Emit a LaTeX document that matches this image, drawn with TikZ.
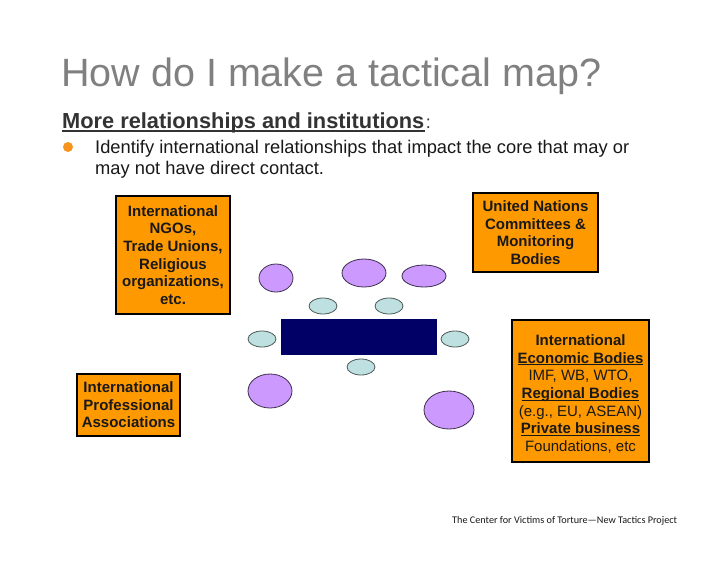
\documentclass[tikz,border=0pt]{standalone}
\usepackage{fontspec}
\setmainfont{Liberation Sans}
\newfontfamily\footfont{Carlito}
\usetikzlibrary{shapes.geometric}
\definecolor{boxorange}{HTML}{FF9900}
\definecolor{corenavy}{HTML}{000066}
\definecolor{lilac}{HTML}{CC99FF}
\definecolor{paleblue}{HTML}{BFE0E0}
\definecolor{titlegray}{HTML}{808080}
\definecolor{subgray}{HTML}{333333}
\definecolor{bulletorange}{HTML}{F7941D}
\newcommand\myul[1]{\setbox0\hbox{#1}\rlap{\rule[-2.4pt]{\wd0}{1.1pt}}\box0}
\begin{document}
\begin{tikzpicture}[x=1pt,y=-1pt,
  orgbox/.style={draw=black, line width=1.5pt, fill=boxorange, inner sep=0pt},
  boxtext/.style={font=\fontsize{15}{17.6}\selectfont\bfseries, text=black!90, align=center, inner sep=0pt},
  bigoval/.style={ellipse, draw=black!70!lilac, fill=lilac, line width=0.8pt, inner sep=0pt},
  smalloval/.style={ellipse, draw=black!60!paleblue, fill=paleblue, line width=0.8pt, inner sep=0pt, minimum width=28pt, minimum height=16pt},
  plain/.style={inner sep=0pt, anchor=base west}]
\useasboundingbox (0,0) rectangle (728,563);
\fill[white] (0,0) rectangle (728,563);

% heading
\node[plain, text=titlegray, font=\fontsize{39.5}{42}\selectfont] (title) at (61,86) {How do I make a tactical map?};
\node[plain, text=subgray, font=\fontsize{21.8}{24}\selectfont\bfseries] (sub) at (62,128) {More relationships and institutions};
\node[plain, text=subgray, font=\fontsize{18}{20}\selectfont] (colon) at ([xshift=1pt]sub.base east) {:};
\draw[subgray, line width=1.5pt] ([yshift=-3.2pt]sub.base west) -- ([yshift=-3.2pt]sub.base east);
\node[circle, fill=bulletorange, minimum size=10pt, inner sep=0pt] (dot) at (68,147) {};
\node[plain, text=black!90, font=\fontsize{18.3}{20.5}\selectfont] (line1) at (95,153) {Identify international relationships that impact the core that may or};
\node[plain, text=black!90, font=\fontsize{18.3}{20.5}\selectfont] (line2) at (95,174) {may not have direct contact.};

% boxes
\node[orgbox, minimum width=114pt, minimum height=118pt] (ngo) at (173,255) {};
\node[boxtext] (ngot) at (ngo.center) {International\\NGOs,\\Trade Unions,\\Religious\\organizations,\\etc.};

\node[orgbox, minimum width=125pt, minimum height=79pt] (un) at (535.5,232.5) {};
\node[boxtext] (unt) at (un.center) {United Nations\\Committees \&\\Monitoring\\Bodies};

\node[orgbox, minimum width=137pt, minimum height=142pt] (econ) at (580.5,391) {};
\node[boxtext, font=\fontsize{15}{17.7}\selectfont] (econt) at (580.5,394) {\textbf{International}\\\myul{\textbf{Economic Bodies}}\\IMF, WB, WTO,\\\myul{\textbf{Regional Bodies}}\\(e.g., EU, ASEAN)\\\myul{\textbf{Private business}}\\Foundations, etc};

\node[orgbox, minimum width=103pt, minimum height=62pt] (prof) at (128.5,405) {};
\node[boxtext] (proft) at (prof.center) {International\\Professional\\Associations};

% core and actors
\node[draw=corenavy, fill=corenavy, minimum width=155pt, minimum height=35pt, inner sep=0pt] (core) at (358.5,336.5) {};

\node[bigoval, minimum width=34pt, minimum height=28pt] (p1) at (276,278) {};
\node[bigoval, minimum width=44pt, minimum height=28pt] (p2) at (364,273) {};
\node[bigoval, minimum width=44pt, minimum height=22pt] (p3) at (424,276) {};
\node[bigoval, minimum width=44pt, minimum height=34pt] (p4) at (270,391) {};
\node[bigoval, minimum width=50pt, minimum height=38pt] (p5) at (449,410) {};

\node[smalloval] (s1) at (323,306) {};
\node[smalloval] (s2) at (389,306) {};
\node[smalloval] (s3) at (262,339) {};
\node[smalloval] (s4) at (455,339) {};
\node[smalloval] (s5) at (361,367) {};

% footer
\node[plain, font=\footfont\fontsize{10.2}{12}\selectfont, text=black!90] (foot) at (452,523) {The Center for Victims of Torture—New Tactics Project};
\end{tikzpicture}
\end{document}
